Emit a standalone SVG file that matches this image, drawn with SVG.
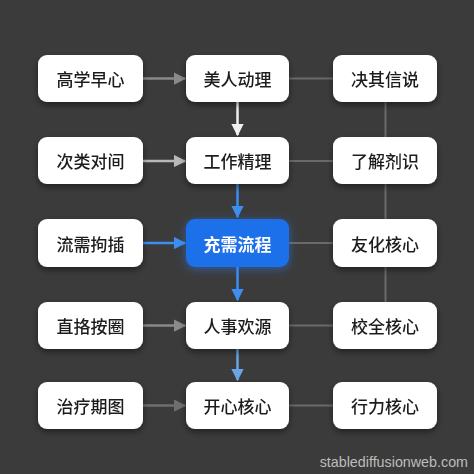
<svg xmlns="http://www.w3.org/2000/svg" width="474" height="474" viewBox="0 0 474 474">
<defs>
<style>
.box{fill:#ffffff}
.t{font-family:"Noto Sans CJK SC","Noto Sans",sans-serif;font-size:17px;font-weight:500;fill:#1e1e1e;text-anchor:middle;dominant-baseline:central}
.tb{fill:#ffffff;font-weight:bold}
.ln{stroke:#6a6a6a;stroke-width:2;fill:none}
</style>
<filter id="sh" x="-20%" y="-30%" width="140%" height="170%">
<feDropShadow dx="0" dy="3" stdDeviation="3" flood-color="#000" flood-opacity="0.45"/>
</filter>
<filter id="glow" x="-30%" y="-40%" width="160%" height="190%">
<feDropShadow dx="0" dy="2" stdDeviation="5" flood-color="#2a7bff" flood-opacity="0.5"/>
</filter>
<marker id="aG" viewBox="0 0 10 10" refX="9" refY="5" markerWidth="5" markerHeight="5" orient="auto" markerUnits="strokeWidth"><path d="M0,0L10,5L0,10z" fill="#8a8a8a"/></marker>
<marker id="aL" viewBox="0 0 10 10" refX="9" refY="5" markerWidth="5" markerHeight="5" orient="auto" markerUnits="strokeWidth"><path d="M0,0L10,5L0,10z" fill="#b8b8b8"/></marker>
<marker id="aD" viewBox="0 0 10 10" refX="9" refY="5" markerWidth="5" markerHeight="5" orient="auto" markerUnits="strokeWidth"><path d="M0,0L10,5L0,10z" fill="#6e6e6e"/></marker>
<marker id="aW" viewBox="0 0 10 10" refX="9" refY="5" markerWidth="5" markerHeight="5" orient="auto" markerUnits="strokeWidth"><path d="M0,0L10,5L0,10z" fill="#f0f0f0"/></marker>
<marker id="aB" viewBox="0 0 10 10" refX="9" refY="5" markerWidth="5" markerHeight="5" orient="auto" markerUnits="strokeWidth"><path d="M0,0L10,5L0,10z" fill="#3d8ef0"/></marker>
<marker id="aP" viewBox="0 0 10 10" refX="9" refY="5" markerWidth="5" markerHeight="5" orient="auto" markerUnits="strokeWidth"><path d="M0,0L10,5L0,10z" fill="#6aa6e6"/></marker>
</defs>
<rect width="474" height="474" fill="#3b3b3b"/>
<g id="connectors">
<line x1="143" y1="78.5" x2="185" y2="78.5" stroke="#8a8a8a" stroke-width="2.5" marker-end="url(#aG)"/>
<line x1="143" y1="161" x2="185" y2="161" stroke="#b8b8b8" stroke-width="2.5" marker-end="url(#aL)"/>
<line x1="143" y1="243" x2="185" y2="243" stroke="#3d8ef0" stroke-width="2.5" marker-end="url(#aB)"/>
<line x1="143" y1="325.5" x2="185" y2="325.5" stroke="#8a8a8a" stroke-width="2.5" marker-end="url(#aG)"/>
<line x1="143" y1="405.5" x2="185" y2="405.5" stroke="#6e6e6e" stroke-width="2.5" marker-end="url(#aD)"/>
<line class="ln" x1="289" y1="78.5" x2="333" y2="78.5"/>
<line class="ln" x1="289" y1="161" x2="333" y2="161"/>
<line class="ln" x1="289" y1="243" x2="333" y2="243"/>
<line class="ln" x1="289" y1="325.5" x2="333" y2="325.5"/>
<line class="ln" x1="289" y1="405.5" x2="333" y2="405.5"/>
<line x1="237.5" y1="102" x2="237.5" y2="135" stroke="#f0f0f0" stroke-width="2.5" marker-end="url(#aW)"/>
<line x1="237.5" y1="184" x2="237.5" y2="217" stroke="#3d8ef0" stroke-width="2.5" marker-end="url(#aB)"/>
<line x1="237.5" y1="267" x2="237.5" y2="300" stroke="#3d8ef0" stroke-width="2.5" marker-end="url(#aB)"/>
<line x1="237.5" y1="349" x2="237.5" y2="380" stroke="#6aa6e6" stroke-width="2.5" marker-end="url(#aP)"/>
<line class="ln" x1="385.5" y1="102" x2="385.5" y2="137"/>
<line class="ln" x1="385.5" y1="184" x2="385.5" y2="219"/>
<line class="ln" x1="385.5" y1="267" x2="385.5" y2="302"/>
</g>
<g id="n1" filter="url(#sh)"><rect class="box" x="38" y="55" width="105" height="47" rx="9"/><text class="t" x="90.5" y="78.5">高学早心</text></g>
<g id="n2" filter="url(#sh)"><rect class="box" x="186" y="55" width="103" height="47" rx="9"/><text class="t" x="237.5" y="78.5">美人动理</text></g>
<g id="n3" filter="url(#sh)"><rect class="box" x="333" y="55" width="104" height="47" rx="9"/><text class="t" x="385" y="78.5">决其信说</text></g>
<g id="n4" filter="url(#sh)"><rect class="box" x="38" y="137" width="105" height="47" rx="9"/><text class="t" x="90.5" y="160.5">次类对间</text></g>
<g id="n5" filter="url(#sh)"><rect class="box" x="186" y="137" width="103" height="47" rx="9"/><text class="t" x="237.5" y="160.5">工作精理</text></g>
<g id="n6" filter="url(#sh)"><rect class="box" x="333" y="137" width="104" height="47" rx="9"/><text class="t" x="385" y="160.5">了解剂识</text></g>
<g id="n7" filter="url(#sh)"><rect class="box" x="38" y="219" width="105" height="48" rx="9"/><text class="t" x="90.5" y="243">流需拘插</text></g>
<g id="n8" filter="url(#glow)"><rect x="186" y="219" width="103" height="48" rx="9" fill="#1f6fea"/><text class="t tb" x="237.5" y="243">充需流程</text></g>
<g id="n9" filter="url(#sh)"><rect class="box" x="333" y="219" width="104" height="48" rx="9"/><text class="t" x="385" y="243">友化核心</text></g>
<g id="n10" filter="url(#sh)"><rect class="box" x="38" y="302" width="105" height="47" rx="9"/><text class="t" x="90.5" y="325.5">直挌按圈</text></g>
<g id="n11" filter="url(#sh)"><rect class="box" x="186" y="302" width="103" height="47" rx="9"/><text class="t" x="237.5" y="325.5">人事欢源</text></g>
<g id="n12" filter="url(#sh)"><rect class="box" x="333" y="302" width="104" height="47" rx="9"/><text class="t" x="385" y="325.5">校全核心</text></g>
<g id="n13" filter="url(#sh)"><rect class="box" x="38" y="382" width="105" height="47" rx="9"/><text class="t" x="90.5" y="405.5">治疗期图</text></g>
<g id="n14" filter="url(#sh)"><rect class="box" x="186" y="382" width="103" height="47" rx="9"/><text class="t" x="237.5" y="405.5">开心核心</text></g>
<g id="n15" filter="url(#sh)"><rect class="box" x="333" y="382" width="104" height="47" rx="9"/><text class="t" x="385" y="405.5">行力核心</text></g>
<text x="468" y="467" font-family="Liberation Sans, Arial, sans-serif" font-size="14.3" fill="#bdbdbd" text-anchor="end">stablediffusionweb.com</text>
</svg>
